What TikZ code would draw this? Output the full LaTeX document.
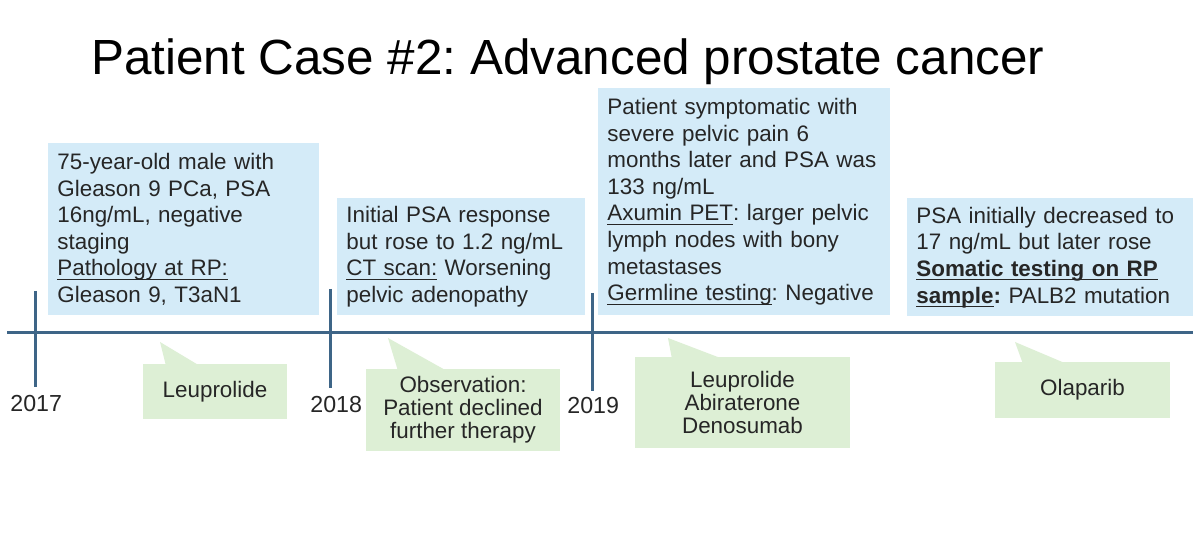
\documentclass[tikz,border=0pt]{standalone}
\usepackage{fontspec}
\setmainfont{Liberation Sans}
\usetikzlibrary{calc}
\definecolor{boxblue}{HTML}{D4EBF8}
\definecolor{boxgreen}{HTML}{DDEFD5}
\definecolor{lineblue}{HTML}{3E6587}
\definecolor{txt}{HTML}{262626}
\frenchspacing
\newcommand{\myul}[1]{\leavevmode\setbox0\hbox{#1}\rlap{\rule[-2pt]{\wd0}{0.6pt}}\box0\relax}
\newcommand{\boxfont}{\fontsize{11.2}{13.3}\selectfont}
\newcommand{\greenfont}{\fontsize{11.2}{11.6}\selectfont}
\tikzset{
  bluebox/.style={fill=boxblue, anchor=north west, align=left, inner xsep=4.5pt,
    inner ysep=0pt, font=\boxfont, text=txt},
  greenbox/.style={fill=boxgreen, align=center, inner sep=0pt, font=\greenfont, text=txt},
  pointer/.style={fill=boxgreen},
  tline/.style={draw=lineblue, line width=1.5pt},
  year/.style={anchor=base west, inner sep=0pt, font=\fontsize{11.6}{13}\selectfont, text=txt}
}
\begin{document}
\begin{tikzpicture}[x=0.5pt,y=-0.5pt]
\fill[white] (0,0) rectangle (1200,533);
\useasboundingbox (0,0) rectangle (1200,533);

\node[anchor=base west, inner sep=0pt, font=\fontsize{24.7}{28}\selectfont] (title) at (91,75)
  {Patient Case \#2: Advanced prostate cancer};

% timeline
\coordinate (tlA) at (7,333);
\coordinate (tlB) at (1193,333);
\draw[tline] (tlA) -- (tlB);
\coordinate (t17a) at (35,291); \coordinate (t17b) at (35,387);
\coordinate (t18a) at (330,289); \coordinate (t18b) at (330,388);
\coordinate (t19a) at (592,293); \coordinate (t19b) at (592,391);
\draw[tline] (t17a) -- (t17b);
\draw[tline] (t18a) -- (t18b);
\draw[tline] (t19a) -- (t19b);

\node[year] (y17) at (10,412) {2017};
\node[year] (y18) at (310,413) {2018};
\node[year] (y19) at (567,414) {2019};

% blue boxes
\node[bluebox, text width=126.5pt, minimum height=86pt] (b1) at (48,143)
  {75-year-old male with\\ Gleason 9 PCa, PSA\\ 16ng/mL, negative\\ staging\\
   \myul{Pathology at RP:}\\ Gleason 9, T3aN1};
\node[bluebox, text width=115pt, minimum height=58.5pt] (b2) at (337,198)
  {Initial PSA response\\ but rose to 1.2 ng/mL\\ \myul{CT scan:} Worsening\\ pelvic adenopathy};
\node[bluebox, text width=137pt, minimum height=113.5pt] (b3) at (598,88)
  {Patient symptomatic with\\ severe pelvic pain 6\\ months later and PSA was\\ 133 ng/mL\\
   \myul{Axumin PET}: larger pelvic\\ lymph nodes with bony\\ metastases\\
   \myul{Germline testing}: Negative};
\node[bluebox, text width=134pt, minimum height=59pt] (b4) at (907,198)
  {PSA initially decreased to\\ 17 ng/mL but later rose\\
   \textbf{\myul{Somatic testing on RP}}\\ \textbf{\myul{sample}:} PALB2 mutation};

% green callouts
\node[greenbox, minimum width=72pt, minimum height=27.5pt] (g1) at (215,391.5) {Leuprolide};
\node[greenbox, minimum width=97pt, minimum height=41pt] (g2) at (463,410)
  {Observation:\\ Patient declined\\ further therapy};
\node[greenbox, minimum width=107.5pt, minimum height=45.5pt] (g3) at (742.5,402.5)
  {Leuprolide\\ Abiraterone\\ Denosumab};
\node[greenbox, minimum width=87.5pt, minimum height=28pt] (g4) at (1082.5,390) {Olaparib};

\coordinate (p1) at (160,342);
\coordinate (p2) at (388,338);
\coordinate (p3) at (668,338);
\coordinate (p4) at (1015,342);
\fill[pointer] (p1) -- (166,366) -- (200,366) -- cycle;
\fill[pointer] (p2) -- (398,371) -- (447,371) -- cycle;
\fill[pointer] (p3) -- (672,359) -- (723,359) -- cycle;
\fill[pointer] (p4) -- (1023,364) -- (1067,364) -- cycle;
\end{tikzpicture}
\end{document}
